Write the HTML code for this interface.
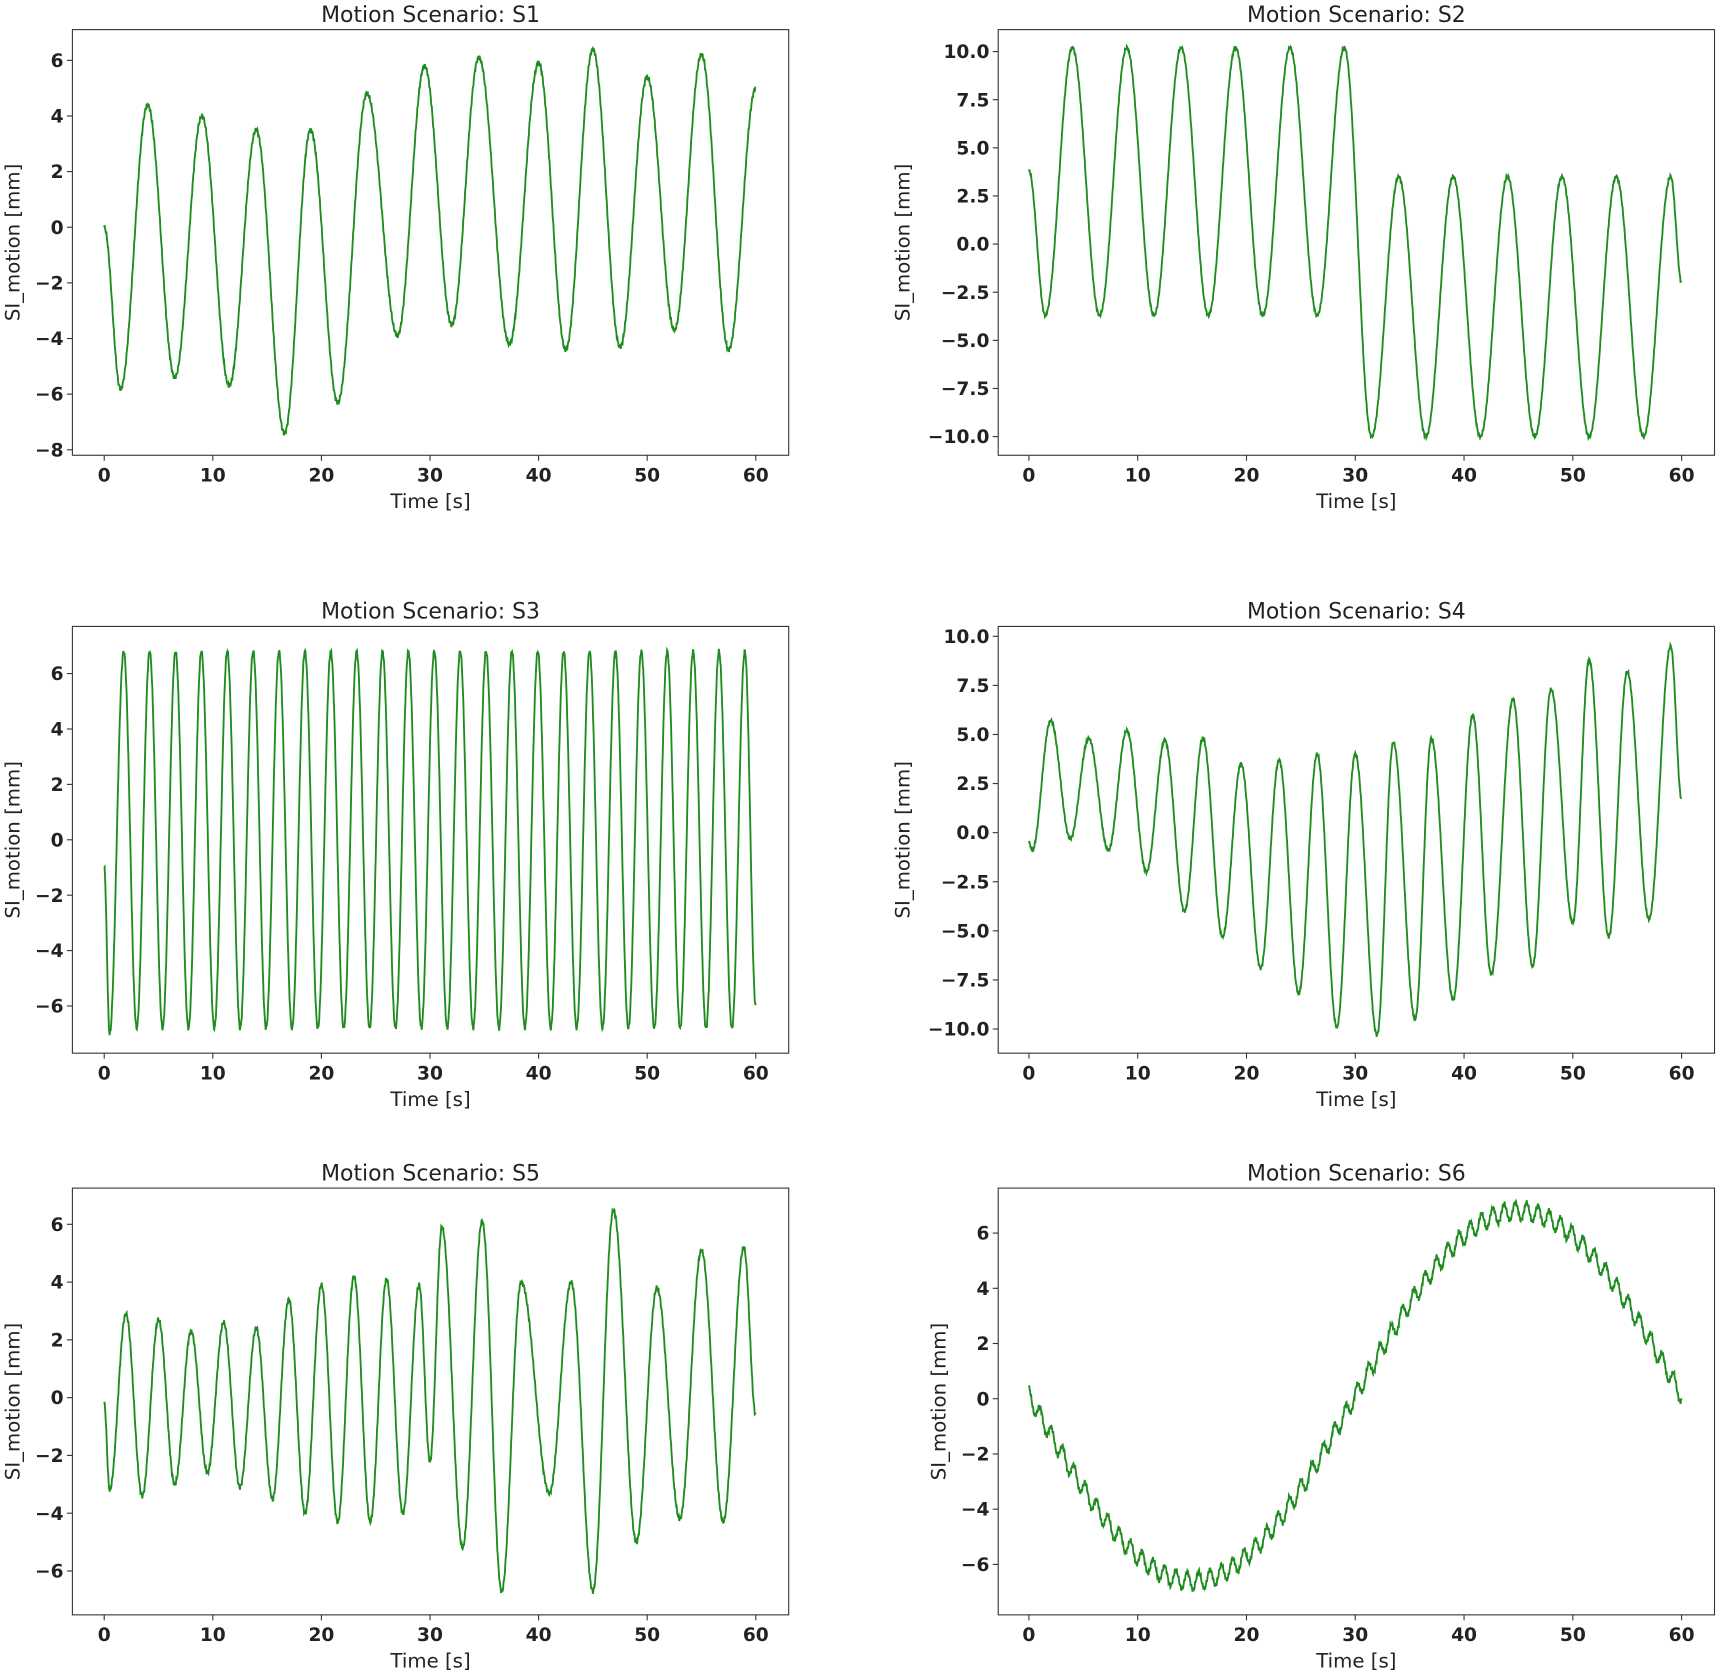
<!DOCTYPE html>
<html><head><meta charset="utf-8"><style>
html,body{margin:0;padding:0;background:#fff;}
svg{display:block;}
text{font-family:"DejaVu Sans","Liberation Sans",sans-serif;fill:#222;}
.tk{font-weight:bold;font-size:17px;}
.ti{font-size:20px;}
.lb{font-size:18px;}
</style></head><body>
<svg id="s" width="1720" height="1673" viewBox="0 0 1568 1525" preserveAspectRatio="none" xmlns="http://www.w3.org/2000/svg"></svg>
<script>
var S=document.getElementById('s'),NS='http://www.w3.org/2000/svg';
function el(n,a,t){var e=document.createElementNS(NS,n);for(var k in a)e.setAttribute(k,a[k]);if(t!=null)e.textContent=t;S.appendChild(e);return e;}
function fmt(v,d){var s=Math.abs(v).toFixed(d);return (v<0?'\u2212':'')+s;}
function knotsFn(K){return function(t){for(var i=0;i<K.length-1;i++){if(t<=K[i+1][0]){var a=K[i],b=K[i+1],u=(t-a[0])/(b[0]-a[0]);var w=(1-Math.cos(Math.PI*u))/2;return a[1]+(b[1]-a[1])*w;}}return K[K.length-1][1];};}
function alt(start,peaks,troughs,end){var K=[start];var all=[];peaks.forEach(function(p){all.push(p)});troughs.forEach(function(p){all.push(p)});all.sort(function(a,b){return a[0]-b[0]});K=K.concat(all);K.push(end);return K;}
function panel(o){
 var L=o.L,R=o.R,T=o.T,B=o.B,x0=o.x0,x1=o.x1;
 function X(t){return x0+(x1-x0)*t/60;}
 function Y(v){return o.ya+(o.yb-o.ya)*(v-o.va)/(o.vb-o.va);}
 el('rect',{x:L,y:T,width:R-L,height:B-T,fill:'none',stroke:'#333','stroke-width':1});
 for(var t=0;t<=60;t+=10){el('line',{x1:X(t),x2:X(t),y1:B,y2:B+5,stroke:'#333'});el('text',{x:X(t),y:B+24,'text-anchor':'middle','class':'tk'},String(t));}
 o.yt.forEach(function(v){el('line',{x1:L-5,x2:L,y1:Y(v),y2:Y(v),stroke:'#333'});el('text',{x:L-8,y:Y(v)+6,'text-anchor':'end','class':'tk'},fmt(v,o.dec));});
 el('text',{x:(L+R)/2,y:T-7,'text-anchor':'middle','class':'ti'},o.title);
 el('text',{x:(L+R)/2,y:B+48,'text-anchor':'middle','class':'lb'},'Time [s]');
 var lx=o.lx;el('text',{x:lx,y:(T+B)/2,'text-anchor':'middle','class':'lb',transform:'rotate(-90 '+lx+' '+(T+B)/2+')'},'SI_motion [mm]');
 var d='';for(var i=0;i<=1800;i++){var t=i*60/1800;var v=o.f(t)+0.06*Math.sin(t*37.1)+0.04*Math.sin(t*71.3);d+=(i?'L':'M')+X(t).toFixed(2)+' '+Y(v).toFixed(2);}
 el('path',{d:d,fill:'none',stroke:'#1f8c1f','stroke-width':1.7});
}
var LC={L:66,R:719,x0:95,x1:689},RC={L:910,R:1563,x0:938,x1:1533};
function m(a,b){var r={};for(var k in a)r[k]=a[k];for(var k in b)r[k]=b[k];return r;}
// S1
var f1=knotsFn([[0,0],[1.5,-5.8],[4,4.4],[6.5,-5.4],[9,4.0],[11.5,-5.7],[14,3.5],[16.6,-7.4],[19,3.5],[21.5,-6.3],[24.2,4.8],[27,-3.9],[29.5,5.8],[32,-3.5],[34.5,6.1],[37.3,-4.2],[40,5.9],[42.5,-4.4],[45,6.4],[47.5,-4.3],[50,5.4],[52.5,-3.7],[55,6.2],[57.5,-4.4],[60,5.0]]);
panel(m(LC,{T:27,B:415,ya:55,yb:410,va:6,vb:-8,yt:[6,4,2,0,-2,-4,-6,-8],dec:0,title:'Motion Scenario: S1',lx:18,f:f1}));
// S2
var K2=[[0,3.8]];for(var k=0;k<6;k++){K2.push([1.5+5*k,-3.7]);K2.push([4+5*k,10.2]);}
for(var k=0;k<6;k++){K2.push([31.5+5*k,-10]);K2.push([34+5*k,3.5]);}K2.push([60,-2]);
panel(m(RC,{T:27,B:415,ya:47,yb:398,va:10,vb:-10,yt:[10,7.5,5,2.5,0,-2.5,-5,-7.5,-10],dec:1,title:'Motion Scenario: S2',lx:829,f:knotsFn(K2)}));
// S3
var K3=[[0,-1],[0.5,-7]];var P=2.383;for(var k=0;k<25;k++){K3.push([1.8+P*k,6.8]);if(k<24)K3.push([1.8+P*k+P/2,-6.8]);}K3.push([60,-6]);
panel(m(LC,{T:571,B:960,ya:614,yb:917,va:6,vb:-6,yt:[6,4,2,0,-2,-4,-6],dec:0,title:'Motion Scenario: S3',lx:18,f:knotsFn(K3)}));
// S4
var K4=[[0,-0.5],[0.3,-0.9],[2,5.7],[3.8,-0.3],[5.5,4.8],[7.3,-0.9],[9,5.2],[10.8,-2.0],[12.5,4.7],[14.3,-4.0],[16,4.8],[17.8,-5.3],[19.5,3.5],[21.3,-6.9],[23,3.7],[24.8,-8.2],[26.5,4.0],[28.3,-9.9],[30,4.0],[32,-10.3],[33.5,4.6],[35.5,-9.5],[37,4.8],[39,-8.5],[40.8,6.0],[42.5,-7.2],[44.5,6.8],[46.3,-6.8],[48,7.3],[50,-4.6],[51.5,8.8],[53.3,-5.3],[55,8.2],[57,-4.4],[59,9.5],[60,1.7]];
panel(m(RC,{T:571,B:960,ya:580,yb:938,va:10,vb:-10,yt:[10,7.5,5,2.5,0,-2.5,-5,-7.5,-10],dec:1,title:'Motion Scenario: S4',lx:829,f:knotsFn(K4)}));
// S5
var K5=[[0,-0.2],[0.5,-3.2],[2,2.9],[3.5,-3.4],[5,2.7],[6.5,-3.0],[8,2.3],[9.5,-2.6],[11,2.6],[12.5,-3.1],[14,2.4],[15.5,-3.5],[17,3.4],[18.5,-4.0],[20,3.9],[21.5,-4.3],[23,4.2],[24.5,-4.3],[26,4.1],[27.5,-4.0],[29,3.9],[30,-2.2],[31.1,5.9],[33,-5.2],[34.8,6.1],[36.6,-6.7],[38.4,4.0],[41,-3.3],[43,4.0],[45,-6.7],[46.9,6.5],[49,-5.0],[50.9,3.8],[53,-4.2],[55,5.1],[57,-4.3],[58.9,5.2],[60,-0.6]];
panel(m(LC,{T:1083,B:1472,ya:1116,yb:1432,va:6,vb:-6,yt:[6,4,2,0,-2,-4,-6],dec:0,title:'Motion Scenario: S5',lx:18,f:knotsFn(K5)}));
// S6
var f6=function(t){return 0.1-6.7*Math.sin(2*Math.PI*t/60)+0.32*Math.cos(2*Math.PI*t/1.04);};
panel(m(RC,{T:1083,B:1472,ya:1124,yb:1426,va:6,vb:-6,yt:[6,4,2,0,-2,-4,-6],dec:0,title:'Motion Scenario: S6',lx:862,f:f6}));
</script>
</body></html>
